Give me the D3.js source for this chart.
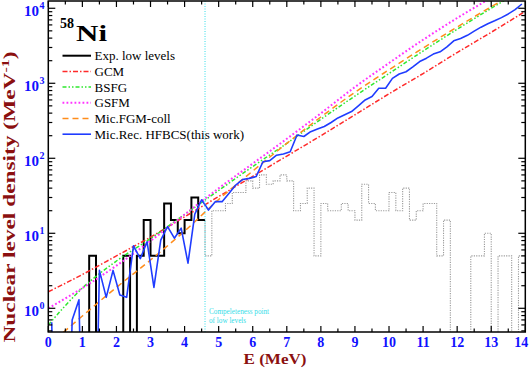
<!DOCTYPE html>
<html><head><meta charset="utf-8">
<script src="https://cdn.jsdelivr.net/npm/d3@7"></script>
<style>
body{margin:0;background:#fff;}
svg{display:block;}
text{font-family:"Liberation Serif","Times New Roman",serif;}
</style>
</head><body>
<svg id="chart" width="532" height="368"></svg>
<script>
// ---------------- DATA ----------------
const binWidth = 0.2;                  // MeV, histogram bin width
// Experimental low levels (black), bins starting at 0.0 MeV
const expLowDensity = [0,0,0,0,0,0,5,0,0,0,0,5,0,5,15,5,5,25,15,10,15,30,15];
// Continuation of the level histogram (grey dotted), bins starting at 4.6 MeV
const expHighStart = 4.6;
const expHighDensity = [5,20,20,25,35,35,50,40,60,45,50,60,50,20,25,40,5,25,20,20,25,20,15,45,25,
                        20,20,35,20,40,15,20,25,25,5,15,0,0,0,5,5,10,0,5,5,0,5];
// Mic.Rec. HFBCS (blue), points at bin centres 0.1 ... 13.9 MeV
const hfbcsDensity = [0.65,0,0,0.7,1.3,0,0,3.2,1.4,3.2,1.5,1.4,6.8,4.6,7.7,1.9,8.1,12.3,8.6,11.7,
                      4.0,18,28,20.4,26.4,26.4,34,44,52,54,57,90,93,110,114,122,204,195,226,245,
                      265,300,345,380,420,500,600,666,857,857,1164,1330,1425,1650,1950,2160,2450,2630,3060,3680,
                      3950,4360,4960,5600,6200,6800,7500,8400,9600,11400];
// Model curves sampled at integer energies
const modelE   = [0,1,2,3,4,5,6,7,8,9,10,11,12,13,14];
const gcm      = [1.66,2.82,5.0,8.9,16.6,30.9,57.5,107,200,380,724,1349,2570,4786,9120];
const bsfg     = [0.6,1.86,4.27,8.5,17.8,37.2,77.6,158,331,676,1349,2692,5248,10000,18600];
const gsfm     = [1.0,1.86,3.7,7.9,17.8,39.8,85,182,398,891,1862,3802,7413,13800,25100];
const micFGM   = [0.32,0.79,1.9,4.4,10.7,28.2,67.6,158,355,759,1514,2951,5623,10470,19050];
const completenessE = 4.6;
const xTicks = [0,1,2,3,4,5,6,7,8,9,10,11,12,13,14];
const yTicks = [1,10,100,1000,10000];
const yTickExp = ["0","1","2","3","4"];
const legendLabels = ["Exp. low levels","GCM","BSFG","GSFM","Mic.FGM-coll","Mic.Rec. HFBCS(this work)"];

// ---------------- LAYOUT ----------------
const svg = d3.select("#chart");
const X0 = 48.3, X1 = 525.3, Y0 = 332, Y1 = 1;
const x = d3.scaleLinear().domain([0,14]).range([X0,X1]);
const y = d3.scaleLog().domain([0.483,12500]).range([Y0,Y1]);
const floorV = 1e-4;
const yv = v => y(Math.max(v, floorV));

svg.append("defs").append("clipPath").attr("id","clip")
  .append("rect").attr("x",X0).attr("y",Y1).attr("width",X1-X0).attr("height",Y0-Y1);
const plot = svg.append("g").attr("clip-path","url(#clip)");

function stepPath(start, vals){
  const pts = [];
  vals.forEach((v,i)=>{
    const e0 = start + i*binWidth, e1 = e0 + binWidth;
    pts.push([x(e0), yv(v)], [x(e1), yv(v)]);
  });
  return pts;
}
const lineRaw = d3.line();

// grey histogram
plot.append("path")
  .attr("d", lineRaw([[x(expHighStart), yv(expLowDensity[expLowDensity.length-1])]].concat(stepPath(expHighStart, expHighDensity))))
  .attr("fill","none").attr("stroke","#9a9a9a").attr("stroke-width",1.1).attr("stroke-dasharray","1.2,1.2");

// cyan completeness line
svg.append("line").attr("x1",x(completenessE)).attr("x2",x(completenessE)).attr("y1",Y1).attr("y2",Y0)
  .attr("stroke","#33dde8").attr("stroke-width",1).attr("stroke-dasharray","1,1.5");
svg.append("text").attr("x",x(completenessE)+4).attr("y",314).attr("font-size",7.2).attr("fill","#33dde8").text("Compeleteness point");
svg.append("text").attr("x",x(completenessE)+4).attr("y",323).attr("font-size",7.2).attr("fill","#33dde8").text("of low levels");

// black histogram
plot.append("path")
  .attr("d", lineRaw([[x(0), yv(0)]].concat(stepPath(0, expLowDensity))))
  .attr("fill","none").attr("stroke","#000").attr("stroke-width",2);

// model curves
const models = [
  {vals:gcm,    color:"#ff2a2a", dash:"5,2,1.5,2",       w:1.5},
  {vals:bsfg,   color:"#2ee82e", dash:"4,2,1.5,2,1.5,2", w:1.5},
  {vals:gsfm,   color:"#ff33ff", dash:"1.8,2.2",         w:2},
  {vals:micFGM, color:"#ff8c1a", dash:"6,4",             w:1.5}
];
const curve = d3.line().x(d=>x(d[0])).y(d=>y(d[1])).curve(d3.curveMonotoneX);
models.forEach(m=>{
  plot.append("path").attr("d", curve(modelE.map((e,i)=>[e,m.vals[i]])))
    .attr("fill","none").attr("stroke",m.color).attr("stroke-width",m.w).attr("stroke-dasharray",m.dash);
});

// blue HFBCS
const blueLine = d3.line().x(d=>x(d[0])).y(d=>yv(d[1]));
plot.append("path").attr("d", blueLine(hfbcsDensity.map((v,i)=>[binWidth/2 + i*binWidth, v])))
  .attr("fill","none").attr("stroke","#1f3cff").attr("stroke-width",1.6).attr("stroke-linejoin","round");

// frame
svg.append("rect").attr("x",X0).attr("y",Y1).attr("width",X1-X0).attr("height",Y0-Y1)
  .attr("fill","none").attr("stroke","#000").attr("stroke-width",1.5);

// ticks
const tk = svg.append("g").attr("stroke","#000").attr("stroke-width",1.2);
const xMinor = d3.range(0.5,14,1);
xTicks.forEach(t=>{
  tk.append("line").attr("x1",x(t)).attr("x2",x(t)).attr("y1",Y0).attr("y2",Y0-6);
  tk.append("line").attr("x1",x(t)).attr("x2",x(t)).attr("y1",Y1).attr("y2",Y1+6);
});
xMinor.forEach(t=>{
  tk.append("line").attr("x1",x(t)).attr("x2",x(t)).attr("y1",Y0).attr("y2",Y0-3.5);
  tk.append("line").attr("x1",x(t)).attr("x2",x(t)).attr("y1",Y1).attr("y2",Y1+3.5);
});
const yMinor = [];
[0.1,1,10,100,1000,10000].forEach(d=>{ for(let k=2;k<=9;k++){ const v=k*d; if(v>0.483 && v<12500) yMinor.push(v);} });
yTicks.forEach(t=>{
  tk.append("line").attr("x1",X0).attr("x2",X0+7).attr("y1",y(t)).attr("y2",y(t));
  tk.append("line").attr("x1",X1).attr("x2",X1-7).attr("y1",y(t)).attr("y2",y(t));
});
yMinor.forEach(t=>{
  tk.append("line").attr("x1",X0).attr("x2",X0+4).attr("y1",y(t)).attr("y2",y(t));
  tk.append("line").attr("x1",X1).attr("x2",X1-4).attr("y1",y(t)).attr("y2",y(t));
});

// tick labels
const blue = "#1010ff";
xTicks.forEach(t=>{
  svg.append("text").attr("x", t===14 ? x(t)-4 : x(t)).attr("y",347).attr("text-anchor","middle")
    .attr("font-size",14).attr("font-weight","bold").attr("fill",blue).text(String(t));
});
yTicks.forEach((t,i)=>{
  svg.append("text").attr("x",39).attr("y",y(t)+8).attr("text-anchor","end")
    .attr("font-size",15).attr("font-weight","bold").attr("fill",blue).text("10");
  svg.append("text").attr("x",39.5).attr("y",y(t)+0.5).attr("font-size",10).attr("font-weight","bold").attr("fill",blue).text(yTickExp[i]);
});

// axis titles
const dred = "#8b1010";
svg.append("text").attr("x",275).attr("y",364).attr("text-anchor","middle").attr("font-size",15.5)
  .attr("textLength",63).attr("lengthAdjust","spacingAndGlyphs")
  .attr("font-weight","bold").attr("fill",dred).text("E (MeV)");
const yt = svg.append("text").attr("transform","translate(14.5,197) rotate(-90) scale(1.46,1)")
  .attr("text-anchor","middle").attr("font-size",16).attr("font-weight","bold").attr("fill",dred);
yt.append("tspan").text("Nuclear level density (MeV");
yt.append("tspan").attr("dy",-6).attr("font-size",11).text("-1");
yt.append("tspan").attr("dy",6).text(")");

// nucleus label
svg.append("text").attr("x",60).attr("y",28).attr("font-size",14).attr("font-weight","bold").text("58");
svg.append("text").attr("x",76).attr("y",40.5).attr("font-size",22.5).attr("font-weight","bold")
  .attr("textLength",31).attr("lengthAdjust","spacingAndGlyphs").text("Ni");

// legend
const legendStyles = [
  {color:"#000", dash:null, w:2},
  {color:"#ff2a2a", dash:"5,2,1.5,2", w:1.5},
  {color:"#2ee82e", dash:"4,2,1.5,2,1.5,2", w:1.5},
  {color:"#ff33ff", dash:"1.8,2.2", w:2},
  {color:"#ff8c1a", dash:"6,4", w:1.5},
  {color:"#1f3cff", dash:null, w:1.6}
];
const legendY0 = 55.7, legendDY = 15.7;
legendLabels.forEach((lab,i)=>{
  const yy = legendY0 + i*legendDY;
  const s = legendStyles[i];
  const l = svg.append("line").attr("x1",62.5).attr("x2",91).attr("y1",yy).attr("y2",yy)
    .attr("stroke",s.color).attr("stroke-width",s.w);
  if(s.dash) l.attr("stroke-dasharray",s.dash);
  svg.append("text").attr("x",94.5).attr("y",yy+4.5).attr("font-size",13).attr("fill","#000").text(lab);
});
</script>
</body></html>
